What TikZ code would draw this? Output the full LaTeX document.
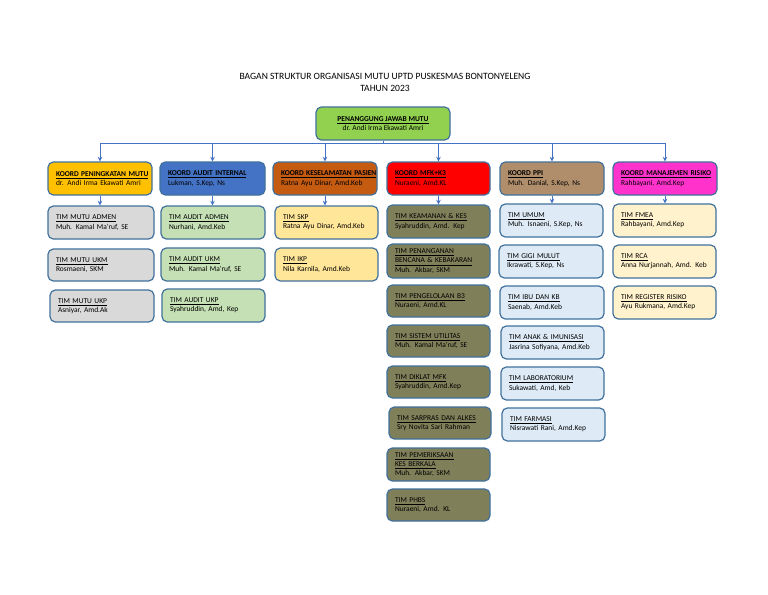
\documentclass[tikz,border=0pt]{standalone}
\usepackage{fontspec}
\setmainfont{Carlito}
\usetikzlibrary{arrows.meta}
\definecolor{lb}{HTML}{41719C}
\definecolor{ar}{HTML}{4472C4}
\definecolor{cgreen}{RGB}{146,208,80}
\definecolor{corange}{RGB}{255,192,0}
\definecolor{cblue}{RGB}{68,114,196}
\definecolor{cbrown}{RGB}{197,90,17}
\definecolor{ctan}{RGB}{176,142,107}
\definecolor{cmag}{RGB}{255,51,204}
\definecolor{cgray}{RGB}{217,217,217}
\definecolor{clgreen}{RGB}{197,224,180}
\definecolor{cyel}{RGB}{255,230,153}
\definecolor{colive}{RGB}{127,127,90}
\definecolor{clblue}{RGB}{222,235,247}
\definecolor{cly}{RGB}{255,242,204}
\tikzset{
 bx/.style={draw=lb, line width=0.9pt, rounded corners=4pt, inner xsep=6pt, inner ysep=1pt, align=left, font=\fontsize{5.6}{7}\selectfont, anchor=center},
 ar/.style={draw=ar, line width=0.6pt, -{Stealth[length=3.5pt,width=3.5pt]}},
}
\newcommand\bx[7]{\node[bx, fill=#6, minimum width={(#4-#2)*0.75pt}, minimum height={(#5-#3)*0.75pt}, text width={(#4-#2)*0.75pt-12pt}] (#1) at ({(#2+#4)/2},{(#3+#5)/2}) {#7};}
\newcommand\ttl[2]{\underline{#1}\\#2}
\begin{document}
\begin{tikzpicture}[x=0.75pt,y=-0.75pt]
\useasboundingbox[fill=white] (0,0) rectangle (768,594);
\node[font=\fontsize{7.2}{9}\selectfont, align=center] (title) at (385,82) {BAGAN STRUKTUR ORGANISASI MUTU UPTD PUSKESMAS BONTONYELENG\\TAHUN 2023};
\node[bx, fill=cgreen, minimum width={134*0.75pt}, minimum height={33*0.75pt}, align=center] (top) at (383,123.5) {\underline{\textbf{PENANGGUNG JAWAB MUTU}}\\dr. Andi Irma Ekawati Amri};
% koord
\bx{k1}{48}{162}{152}{195}{corange}{\ttl{\textbf{KOORD PENINGKATAN MUTU}}{dr. Andi Irma Ekawati Amri}}
\bx{k2}{160}{162}{265}{195}{cblue}{\ttl{\textbf{KOORD AUDIT INTERNAL}}{Lukman, S.Kep, Ns}}
\bx{k3}{273}{162}{377}{195}{cbrown}{\ttl{\textbf{KOORD KESELAMATAN PASIEN}}{Ratna Ayu Dinar, Amd.Keb}}
\bx{k4}{387}{162}{490}{195}{red}{\ttl{\textbf{KOORD MFK+K3}}{Nuraeni, Amd.KL}}
\bx{k5}{500}{162}{604}{195}{ctan}{\ttl{\textbf{KOORD PPI}}{Muh. Danial, S.Kep, Ns}}
\bx{k6}{613}{162}{717}{195}{cmag}{\ttl{\textbf{KOORD MANAJEMEN RISIKO}}{Rahbayani, Amd.Kep}}
% col1
\bx{a1}{48}{206}{154}{239}{cgray}{\ttl{TIM MUTU ADMEN}{Muh. Kamal Ma'ruf, SE}}
\bx{a2}{48}{249}{154}{281}{cgray}{\ttl{TIM MUTU UKM}{Rosmaeni, SKM}}
\bx{a3}{50}{290}{154}{322}{cgray}{\ttl{TIM MUTU UKP}{Asniyar, Amd.Ak}}
% col2
\bx{b1}{161}{206}{265}{239}{clgreen}{\ttl{TIM AUDIT ADMEN}{Nurhani, Amd.Keb}}
\bx{b2}{161}{248}{265}{281}{clgreen}{\ttl{TIM AUDIT UKM}{Muh. Kamal Ma'ruf, SE}}
\bx{b3}{162}{289}{265}{322}{clgreen}{\ttl{TIM AUDIT UKP}{Syahruddin, Amd, Kep}}
% col3
\bx{c1}{275}{206}{378}{239}{cyel}{\ttl{TIM SKP}{Ratna Ayu Dinar, Amd.Keb}}
\bx{c2}{275}{248}{378}{281}{cyel}{\ttl{TIM IKP}{Nila Karnila, Amd.Keb}}
% col4
\bx{d1}{387}{205}{490}{238}{colive}{\ttl{TIM KEAMANAN \& KES}{Syahruddin, Amd. Kep}}
\bx{d2}{387}{244}{490}{278}{colive}{\underline{TIM PENANGANAN}\\\underline{BENCANA \& KEBAKARAN}\\Muh. Akbar, SKM}
\bx{d3}{387}{285}{490}{317}{colive}{\ttl{TIM PENGELOLAAN B3}{Nuraeni, Amd.KL}}
\bx{d4}{387}{325}{490}{357}{colive}{\ttl{TIM SISTEM UTILITAS}{Muh. Kamal Ma'ruf, SE}}
\bx{d5}{387}{366}{490}{398}{colive}{\ttl{TIM DIKLAT MFK}{Syahruddin, Amd.Kep}}
\bx{d6}{389}{407}{491}{439}{colive}{\ttl{TIM SARPRAS DAN ALKES}{Sry Novita Sari Rahman}}
\bx{d7}{387}{448}{490}{481}{colive}{\underline{TIM PEMERIKSAAN}\\\underline{KES BERKALA}\\Muh. Akbar, SKM}
\bx{d8}{387}{489}{490}{521}{colive}{\ttl{TIM PHBS}{Nuraeni, Amd. KL}}
% col5
\bx{e1}{500}{204}{603}{237}{clblue}{\ttl{TIM UMUM}{Muh. Isnaeni, S.Kep, Ns}}
\bx{e2}{499}{245}{603}{278}{clblue}{\ttl{TIM GIGI MULUT}{Ikrawati, S.Kep, Ns}}
\bx{e3}{500}{286}{604}{319}{clblue}{\ttl{TIM IBU DAN KB}{Saenab, Amd.Keb}}
\bx{e4}{501}{326}{604}{359}{clblue}{\ttl{TIM ANAK \& IMUNISASI}{Jasrina Sofiyana, Amd.Keb}}
\bx{e5}{501}{367}{604}{400}{clblue}{\ttl{TIM LABORATORIUM}{Sukawati, Amd, Keb}}
\bx{e6}{502}{408}{605}{441}{clblue}{\ttl{TIM FARMASI}{Nisrawati Rani, Amd.Kep}}
% col6
\bx{f1}{613}{204}{716}{237}{cly}{\ttl{TIM FMEA}{Rahbayani, Amd.Kep}}
\bx{f2}{613}{245}{716}{278}{cly}{\ttl{TIM RCA}{Anna Nurjannah, Amd. Keb}}
\bx{f3}{613}{286}{716}{319}{cly}{\ttl{TIM REGISTER RISIKO}{Ayu Rukmana, Amd.Kep}}
% bus
\coordinate (bus) at (383,143);
\draw[draw=ar, line width=0.6pt] (top.south) -- (bus);
\draw[draw=ar, line width=0.6pt] (k1.north |- bus) -- (k6.north |- bus);
\foreach \k in {k1,k2,k3,k4,k5,k6}{\draw[ar] (\k.north |- bus) -- (\k.north);}
\draw[ar] (k1.south) -- (k1.south |- a1.north);
\draw[ar] (k2.south) -- (k2.south |- b1.north);
\draw[ar] (k3.south) -- (k3.south |- c1.north);
\draw[ar] (k4.south) -- (k4.south |- d1.north);
\draw[ar] (k5.south) -- (k5.south |- e1.north);
\draw[ar] (k6.south) -- (k6.south |- f1.north);
\end{tikzpicture}
\end{document}
